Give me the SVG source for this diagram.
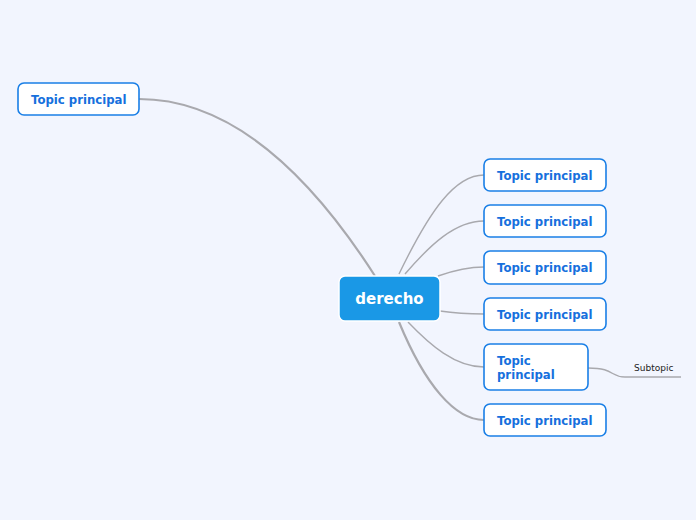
<svg xmlns="http://www.w3.org/2000/svg" width="696" height="520" viewBox="0 0 696 520">
<style>
.bg{fill:#f2f5fe}
.topic{fill:#ffffff;stroke:#1a7fe6;stroke-width:1.6}
.tt{font-family:"DejaVu Sans",Verdana,sans-serif;font-weight:bold;font-size:11.7px;fill:#1670dd}
.conn{fill:none;stroke:#a9a9ae;stroke-width:1.4}
.thick{fill:none;stroke:#a9a9ae;stroke-width:2.2}
</style>
<rect class="bg" x="0" y="0" width="696" height="520"/>
<g id="connectors">
<path class="thick" d="M375,276 C320,190 240,99 139,99"/>
<path class="conn" d="M399,274 C430,210 455,175 484,175"/>
<path class="conn" d="M405,274 C430,245 455,221 484,221"/>
<path class="conn" d="M438,276 C455,270 470,267 484,267"/>
<path class="conn" d="M440,311 C460,314 470,314 484,314"/>
<path class="conn" d="M408,322 C430,345 455,367 484,367"/>
<path class="thick" d="M399,322 C425,385 455,420 484,420"/>
<path class="conn" d="M588,368 C615,368 610,377 625,377 L681,377"/>
</g>
<g id="center">
<rect x="339" y="276" width="101" height="45" rx="6" fill="#1a98e6" stroke="#ffffff" stroke-width="1.5"/>
<text x="389.5" y="304" text-anchor="middle" font-family="'DejaVu Sans',Verdana,sans-serif" font-weight="bold" font-size="15" fill="#ffffff">derecho</text>
</g>
<g id="left1">
<rect class="topic" x="18" y="83" width="121" height="32" rx="6"/>
<text class="tt" x="31" y="104">Topic principal</text>
</g>
<g id="r1">
<rect class="topic" x="484" y="159" width="122" height="32" rx="6"/>
<text class="tt" x="497" y="180">Topic principal</text>
</g>
<g id="r2">
<rect class="topic" x="484" y="205" width="122" height="32" rx="6"/>
<text class="tt" x="497" y="226">Topic principal</text>
</g>
<g id="r3">
<rect class="topic" x="484" y="251" width="122" height="33" rx="6"/>
<text class="tt" x="497" y="272">Topic principal</text>
</g>
<g id="r4">
<rect class="topic" x="484" y="298" width="122" height="32" rx="6"/>
<text class="tt" x="497" y="319">Topic principal</text>
</g>
<g id="r5">
<rect class="topic" x="484" y="344" width="104" height="46" rx="6"/>
<text class="tt" x="497" y="365">Topic</text>
<text class="tt" x="497" y="379">principal</text>
</g>
<g id="r6">
<rect class="topic" x="484" y="404" width="122" height="32" rx="6"/>
<text class="tt" x="497" y="425">Topic principal</text>
</g>
<g id="sub1">
<text x="634" y="371" font-family="'DejaVu Sans',Verdana,sans-serif" font-size="9" fill="#222222">Subtopic</text>
</g>
</svg>
